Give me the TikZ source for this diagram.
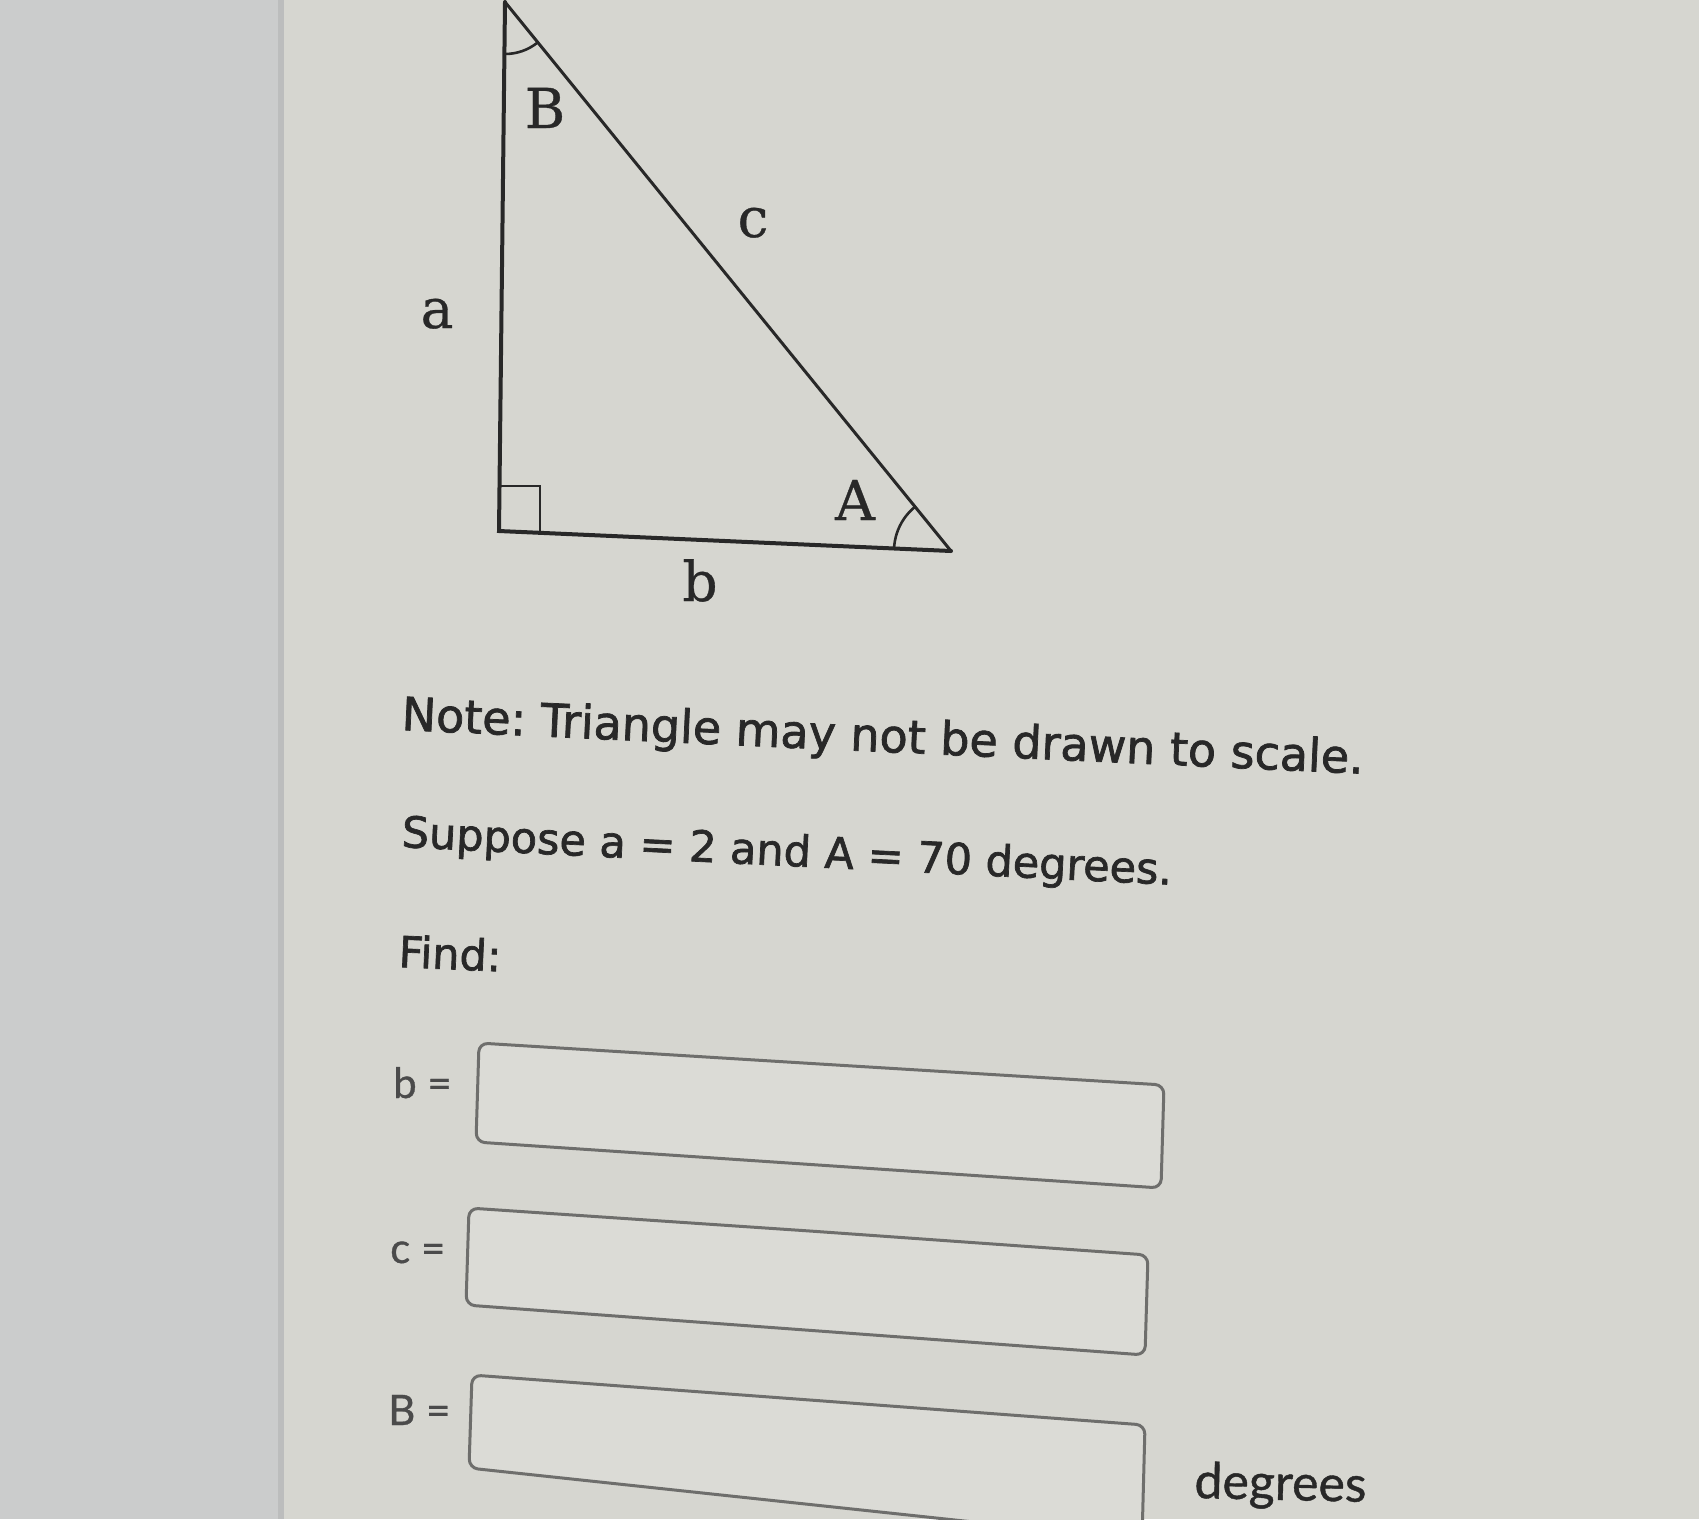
\documentclass[tikz,border=0pt]{standalone}
\usepackage{fontspec}
\usetikzlibrary{calc}
\newfontfamily\notefont[FakeBold=1.6]{DejaVu Sans}
\newfontfamily\labfont[FakeBold=0.8]{Lato}
\newfontfamily\trifont[FakeBold=0.6]{DejaVu Serif}
\frenchspacing
\definecolor{bgmain}{RGB}{214,214,208}
\definecolor{bgleft}{RGB}{203,204,204}
\definecolor{bgline}{RGB}{188,189,189}
\definecolor{ink}{RGB}{40,40,40}
\definecolor{labink}{RGB}{75,75,75}
\definecolor{boxline}{RGB}{110,110,108}
\tikzset{
  leg/.style={draw=ink, line width=4pt, line cap=round},
  hyp/.style={draw=ink, line width=3pt, line cap=round},
  anglemark/.style={draw=ink, line width=2.6pt},
  trilab/.style={anchor=base, inner sep=0pt, text=ink, font=\trifont\fontsize{55}{55}\selectfont},
  notetxt/.style={anchor=base west, inner sep=0pt, text=ink},
  eqlab/.style={anchor=base west, inner sep=0pt, text=labink, font=\labfont\fontsize{42}{42}\selectfont},
  ansbox/.style={draw=boxline, line width=3pt, rounded corners=9pt, fill=bgmain!88!white}
}
\begin{document}
\begin{tikzpicture}[x=1pt,y=1pt]
\useasboundingbox (0,0) rectangle (1699,-1519);
\clip (0,0) rectangle (1699,-1519);
% background
\fill[bgmain] (0,0) rectangle (1699,-1519);
\fill[bgleft] (0,0) rectangle (283,-1519);
\draw[bgline, line width=6pt] (281,0) -- (281,-1519);

% triangle
\coordinate (T) at (505,-2);
\coordinate (C) at (499,-531);
\coordinate (R) at (951,-551);
\draw[leg] (T) -- (C) -- (R);
\draw[hyp] (R) -- (T);
% right angle mark
\draw[anglemark] ($(C)+(0,45)$) -- ++(41,0) -- ++(0,-46);
% angle arcs
\draw[anglemark] (R) ++(177.5:57) arc[start angle=177.5, end angle=129.1, radius=57pt];
\draw[anglemark] (T) ++(269.3:52) arc[start angle=269.3, end angle=309.1, radius=52pt];

% triangle labels
\node[trilab] (labB) at (545,-128) {B};
\node[trilab] (labc) at (753,-237) {c};
\node[trilab] (laba) at (437,-328) {a};
\node[trilab] (labA) at (855,-520) {A};
\node[trilab] (labb) at (700,-601) {b};

% text
\node[notetxt, rotate=-2.6, font=\notefont\fontsize{46}{46}\selectfont] (note) at (401,-730) {Note: Triangle may not be drawn to scale.};
\node[notetxt, rotate=-2.8, font=\notefont\fontsize{43}{43}\selectfont] (suppose) at (401,-847) {Suppose a = 2 and A = 70 degrees.};
\node[notetxt, rotate=-2.5, font=\notefont\fontsize{43}{43}\selectfont] (find) at (398,-967) {Find:};

% answer labels
\node[eqlab] (eqb) at (393,-1098) {b =};
\node[eqlab] (eqc) at (390,-1263) {c =};
\node[eqlab] (eqB) at (388,-1425) {B =};

% answer boxes
\draw[ansbox] (820,-1064) -- (1164,-1085) -- (1161,-1188) -- (476,-1142) -- (479,-1043) -- cycle;
\draw[ansbox] (810,-1231) -- (1148,-1255) -- (1145,-1355) -- (466,-1305) -- (469,-1208) -- cycle;
\draw[ansbox] (810,-1400) -- (1145,-1425) -- (1142,-1540) -- (469,-1468) -- (472,-1375) -- cycle;

\node[anchor=base west, inner sep=0pt, text=ink, rotate=-1.3, font=\labfont\fontsize{50}{50}\selectfont] (deg) at (1194,-1498) {degrees};
\end{tikzpicture}
\end{document}
